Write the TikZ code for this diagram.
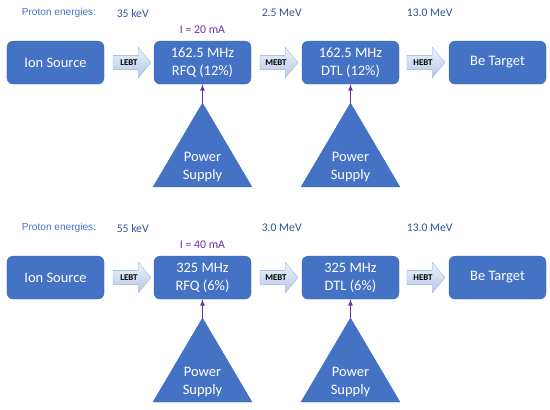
\documentclass[tikz,border=0pt]{standalone}
\usepackage{fontspec}
\setmainfont{Carlito}
\newfontfamily\arialfont{Liberation Sans}
\usetikzlibrary{shapes.arrows}
\definecolor{boxblue}{HTML}{4472C4}
\definecolor{boxline}{HTML}{3B65B0}
\definecolor{enblue}{HTML}{2F5597}
\definecolor{lblblue}{HTML}{4472C4}
\definecolor{ipurple}{HTML}{7030A0}
\definecolor{arrline}{HTML}{8FAADC}
\definecolor{arrtop}{HTML}{EEF3FA}
\definecolor{arrbot}{HTML}{B4C7E7}
\begin{document}
\begin{tikzpicture}[line join=round,line width=0.2pt,>=latex,
  stage/.style={draw=boxline,fill=boxblue,rounded corners=0.15cm,minimum width=2.425cm,
    minimum height=1.075cm,inner sep=0pt,align=center,text=white,font=\fontsize{10.3}{12.8}\selectfont},
  beamline/.style={single arrow,draw=arrline,top color=arrtop,bottom color=arrbot,
    minimum height=0.95cm,single arrow head extend=0.2cm,single arrow tip angle=100,
    inner xsep=1pt,inner ysep=3pt,font=\bfseries\fontsize{6.3}{7}\selectfont},
  supply/.style={fill=boxblue,draw=boxline},
  supplytext/.style={text=white,align=center,font=\fontsize{10.3}{12.8}\selectfont},
  energy/.style={anchor=west,text=enblue,font=\fontsize{8.3}{9}\selectfont},
  current/.style={text=ipurple,font=\fontsize{8.4}{9}\selectfont},
  feed/.style={->,draw=ipurple,line width=0.6pt}]
\useasboundingbox (0,0) rectangle (13.75,10.225);

% 162.5 MHz line
    \node [anchor=west,text=lblblue,font=\arialfont\fontsize{7.2}{8}\selectfont] (enA0) at (0.425,9.9) {Proton energies:};
    \node [energy] (enA1) at (2.8,9.9) {35 keV};
    \node [energy] (enA2) at (6.425,9.9) {2.5 MeV};
    \node [energy] (enA3) at (10.05,9.9) {13.0 MeV};
    \node [current] (curA) at (5.0625,9.475) {I = 20 mA};

    \node [stage] (isA) at (1.3875,8.66) {Ion Source};
    \node [stage] (rfqA) at (5.0625,8.66) {162.5 MHz\\RFQ (12\%)};
    \node [stage] (dtlA) at (8.7625,8.66) {162.5 MHz\\DTL (12\%)};
    \node [stage] (btA) at (12.4375,8.66) {Be Target};
    \node [beamline] (lebtA) at (3.225,8.66) {LEBT};
    \node [beamline] (mebtA) at (6.9,8.66) {MEBT};
    \node [beamline] (hebtA) at (10.575,8.66) {HEBT};

\filldraw[supply](5.0625,7.65)--(3.825,5.55)--(6.3,5.55)--cycle;
\filldraw[supply](8.7625,7.65)--(7.525,5.55)--(10,5.55)--cycle;
    \coordinate (psA1) at (5.0625,7.65);
    \coordinate (psA2) at (8.7625,7.65);
    \node [supplytext] (psAt1) at (5.0625,6.04) {Power\\Supply};
    \node [supplytext] (psAt2) at (8.7625,6.04) {Power\\Supply};
\draw[feed](psA1)--(rfqA.south);
\draw[feed](psA2)--(dtlA.south);

% 325 MHz line
    \node [anchor=west,text=lblblue,font=\arialfont\fontsize{7.2}{8}\selectfont] (enB0) at (0.425,4.525) {Proton energies:};
    \node [energy] (enB1) at (2.8,4.525) {55 keV};
    \node [energy] (enB2) at (6.425,4.525) {3.0 MeV};
    \node [energy] (enB3) at (10.05,4.525) {13.0 MeV};
    \node [current] (curB) at (5.0625,4.1) {I = 40 mA};

    \node [stage] (isB) at (1.3875,3.285) {Ion Source};
    \node [stage] (rfqB) at (5.0625,3.285) {325 MHz\\RFQ (6\%)};
    \node [stage] (dtlB) at (8.7625,3.285) {325 MHz\\DTL (6\%)};
    \node [stage] (btB) at (12.4375,3.285) {Be Target};
    \node [beamline] (lebtB) at (3.225,3.285) {LEBT};
    \node [beamline] (mebtB) at (6.9,3.285) {MEBT};
    \node [beamline] (hebtB) at (10.575,3.285) {HEBT};

\filldraw[supply](5.0625,2.275)--(3.825,0.175)--(6.3,0.175)--cycle;
\filldraw[supply](8.7625,2.275)--(7.525,0.175)--(10,0.175)--cycle;
    \coordinate (psB1) at (5.0625,2.275);
    \coordinate (psB2) at (8.7625,2.275);
    \node [supplytext] (psBt1) at (5.0625,0.665) {Power\\Supply};
    \node [supplytext] (psBt2) at (8.7625,0.665) {Power\\Supply};
\draw[feed](psB1)--(rfqB.south);
\draw[feed](psB2)--(dtlB.south);
  \end{tikzpicture}
\end{document}
